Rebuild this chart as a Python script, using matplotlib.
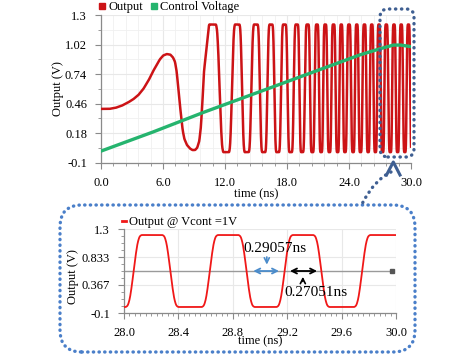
import matplotlib
matplotlib.use("Agg")
import matplotlib.pyplot as plt
import numpy as np
from matplotlib.lines import Line2D
from matplotlib.patches import FancyBboxPatch, PathPatch
from matplotlib.path import Path
from matplotlib.transforms import IdentityTransform

plt.rcParams["font.family"] = ["Liberation Serif", "DejaVu Serif"]

# ---- data ----
# top panel: start-up transient of the output
startup_t = [0.0, 0.8, 1.4, 2.0, 2.6, 3.1, 3.6, 4.1, 4.6, 5.0, 5.4, 5.7, 6.0, 6.35, 6.7,
             6.95, 7.15, 7.3, 7.45, 7.6, 7.75, 7.9, 8.05, 8.3, 8.6, 8.85, 9.1, 9.3, 9.5, 9.65, 9.8, 9.95]
startup_v = [0.41, 0.41, 0.42, 0.44, 0.47, 0.50, 0.54, 0.60, 0.68, 0.76, 0.83, 0.88, 0.915, 0.93, 0.925,
             0.90, 0.86, 0.78, 0.64, 0.48, 0.34, 0.21, 0.13, 0.07, 0.035, 0.02, 0.02, 0.04, 0.10, 0.22, 0.45, 0.75]
# centres of the high and low plateaus of the oscillation
peak_t = [10.8, 13.2, 15.0, 16.45, 17.75, 18.95, 20.0, 20.9, 21.7, 22.5, 23.25, 24.0,
          24.75, 25.5, 26.2, 26.9, 27.6, 28.35, 29.05, 29.75]
trough_t = [12.15, 14.1, 15.75, 17.1, 18.35, 19.45, 20.45, 21.3, 22.1, 22.9, 23.6, 24.4,
            25.1, 25.85, 26.55, 27.25, 28.0, 28.7, 29.4, 30.1]
v_high = 1.21
v_low = 0.0
# control voltage
ctrl_t = [0.0, 5.0, 10.0, 15.0, 20.0, 25.0, 27.0, 28.3, 29.0, 30.0]
ctrl_v = [0.01, 0.19, 0.38, 0.56, 0.74, 0.92, 0.98, 1.015, 1.015, 1.0]

# bottom panel: mid-level crossing times at Vcont = 1 V
zoom_rise = [28.07, 28.63, 29.18, 29.75]
zoom_fall = [28.34, 28.90, 29.45, 30.06]
zoom_high = 1.2
zoom_low = 0.0
mid_level = 0.6

red = "#cc1316"
green = "#25b46e"
grid_c = "#e8e8e8"
spine_c = "#8a8a8a"

# S-shaped profile used for every edge between two plateaus
edge_frac = [0.0, 0.15, 0.3, 0.5, 0.7, 0.85, 1.0]
edge_shape = [0.0, 0.05, 0.2, 0.5, 0.8, 0.95, 1.0]


def smooth(v, win):
    k = np.ones(win) / win
    vp = np.pad(v, win, mode="edge")
    return np.convolve(vp, k, mode="same")[win:-win]


def add_edge(ts, vs, t0, t1, a, b):
    for f, s in zip(edge_frac[1:-1], edge_shape[1:-1]):
        ts.append(t0 + f * (t1 - t0))
        vs.append(a + s * (b - a))


# build top waveform from plateau centres
ext = sorted([(p, v_high) for p in peak_t] + [(q, v_low) for q in trough_t])
wt = list(startup_t)
wv = list(startup_v)
prev_c = 9.4
for i, (c, lev) in enumerate(ext):
    nxt = ext[i + 1][0] if i + 1 < len(ext) else c + 0.35
    left = c - 0.5 * (c - prev_c) * 0.5
    right = c + 0.5 * (nxt - c) * 0.5
    if i > 0:
        add_edge(wt, wv, wt[-1], left, wv[-1], lev)
    wt += [left, right]
    wv += [lev, lev]
    prev_c = c
tt = np.arange(0, 30.2, 0.005)
vv = smooth(np.interp(tt, wt, wv), 16)

# bottom waveform from crossings
et = [27.9]
ev = [zoom_low]
edges = sorted([(c, zoom_low, zoom_high) for c in zoom_rise] + [(c, zoom_high, zoom_low) for c in zoom_fall])
for c, a, b in edges:
    et.append(c - 0.05)
    ev.append(a)
    add_edge(et, ev, c - 0.05, c + 0.05, a, b)
    et.append(c + 0.05)
    ev.append(b)
et.append(30.3)
ev.append(zoom_low)
bt = np.arange(27.9, 30.3, 0.002)
bv = smooth(np.interp(bt, et, ev), 12)

fig = plt.figure(figsize=(4.74, 3.63), dpi=100)

# ---- top panel ----
ax1 = fig.add_axes([101 / 474, 1 - 162.7 / 363, 310 / 474, 147.7 / 363])
ax1.plot(tt, vv, color=red, lw=1.8, zorder=3)
ax1.plot(ctrl_t, ctrl_v, color=green, lw=2.4, zorder=4)
ax1.set_xlim(0, 30)
ax1.set_ylim(-0.1, 1.3)
ax1.set_xticks([0, 6, 12, 18, 24, 30])
ax1.set_xticklabels(["0.0", "6.0", "12.0", "18.0", "24.0", "30.0"])
ax1.set_xticks(np.arange(0, 30.01, 1.2), minor=True)
ax1.set_yticks([-0.1, 0.18, 0.46, 0.74, 1.02, 1.3])
ax1.set_yticklabels(["-0.1", "0.18", "0.46", "0.74", "1.02", "1.3"])
ax1.set_yticks(np.arange(-0.1, 1.31, 0.14), minor=True)
ax1.set_xlabel("time (ns)", fontsize=9)
ax1.set_ylabel("Output (V)", fontsize=9)
ax1.xaxis.set_label_coords(0.5, -0.175)
ax1.yaxis.set_label_coords(-0.12, 0.5)

# ---- bottom panel ----
ax2 = fig.add_axes([124 / 474, 1 - 313 / 363, 272 / 474, 84 / 363])
ax2.plot(bt, bv, color="#f01818", lw=1.3, zorder=3)
ax2.plot([28.0, 29.97], [mid_level, mid_level], color="#9a9a9a", lw=1.0, zorder=2)
ax2.plot([29.97], [mid_level], marker="s", ms=3.5, color="#555555", zorder=4)
ax2.set_xlim(28.0, 30.0)
ax2.set_ylim(-0.1, 1.3)
ax2.set_xticks([28.0, 28.4, 28.8, 29.2, 29.6, 30.0])
ax2.set_xticklabels(["28.0", "28.4", "28.8", "29.2", "29.6", "30.0"])
ax2.set_xticks(np.arange(28.0, 30.001, 0.04), minor=True)
ax2.set_yticks([-0.1, 0.367, 0.833, 1.3])
ax2.set_yticklabels(["-0.1", "0.367", "0.833", "1.3"])
ax2.set_yticks(np.arange(-0.1, 1.31, 0.1167), minor=True)
ax2.set_xlabel("time (ns)", fontsize=9)
ax2.set_ylabel("Output (V)", fontsize=9)
ax2.xaxis.set_label_coords(0.5, -0.26)
ax2.yaxis.set_label_coords(-0.165, 0.43)

for ax in (ax1, ax2):
    for s in ("top", "right"):
        ax.spines[s].set_visible(False)
    for s in ("left", "bottom"):
        ax.spines[s].set_color(spine_c)
        ax.spines[s].set_linewidth(0.9)
    ax.tick_params(which="major", length=4, width=0.8, color=spine_c, labelsize=9, pad=6)
    ax.tick_params(which="minor", length=2.5, width=0.6, color=spine_c)
    ax.grid(True, which="major", color=grid_c, lw=0.8, zorder=0)
ax1.grid(True, which="minor", color="#f0f0f0", lw=0.6, zorder=0)

# annotations in bottom panel
ann_c1 = "#4b8ccb"
ax2.annotate("", xy=(28.93, mid_level), xytext=(29.16, mid_level),
             arrowprops=dict(arrowstyle="<->", color=ann_c1, lw=1.3, mutation_scale=9))
ax2.annotate("", xy=(29.05, 0.66), xytext=(29.05, 0.88),
             arrowprops=dict(arrowstyle="->", color=ann_c1, lw=1.2, mutation_scale=9))
ax2.annotate("", xy=(29.2, mid_level), xytext=(29.44, mid_level),
             arrowprops=dict(arrowstyle="<->", color="black", lw=1.3, mutation_scale=9))
ax2.annotate("", xy=(29.315, 0.55), xytext=(29.315, 0.38),
             arrowprops=dict(arrowstyle="->", color="black", lw=1.2, mutation_scale=9))
ax2.text(28.875, 0.97, "0.29057ns", fontsize=11, ha="left", va="center", zorder=5)
ax2.text(29.18, 0.24, "0.27051ns", fontsize=11, ha="left", va="center", zorder=5)

# legends
h1 = [Line2D([], [], ls="none", marker="s", ms=4, color=red),
      Line2D([], [], ls="none", marker="s", ms=4, color=green)]
fig.legend(h1, ["Output", "Control Voltage"], loc="center left",
           bbox_to_anchor=(99 / 474, 1 - 7 / 363), ncol=2, frameon=False, fontsize=9,
           handlelength=0.5, handletextpad=0.25, columnspacing=0.6, borderpad=0, borderaxespad=0)
h2 = [Line2D([], [], color="#f01818", lw=2)]
fig.legend(h2, ["Output @ Vcont =1V"], loc="center left",
           bbox_to_anchor=(122 / 474, 1 - 222 / 363), frameon=False, fontsize=9,
           handlelength=0.35, handletextpad=0.2, borderpad=0, borderaxespad=0)

# dotted callout boxes (pixel coordinates)
H = 363
box_top = FancyBboxPatch((380, H - 157), 34, 148, boxstyle="round,pad=0,rounding_size=8",
                         fill=False, ec="#3f5f92", lw=2.4, ls=(0, (0.1, 1.7)),
                         capstyle="round", transform=IdentityTransform())
box_bot = FancyBboxPatch((60, H - 352), 355, 147, boxstyle="round,pad=0,rounding_size=22",
                         fill=False, ec="#4a7fc9", lw=2.4, ls=(0, (0.1, 1.6)),
                         capstyle="round", transform=IdentityTransform())
fig.add_artist(box_top)
fig.add_artist(box_bot)
link = Path([(391, H - 172), (374, H - 180), (362, H - 204)],
            [Path.MOVETO, Path.CURVE3, Path.CURVE3])
fig.add_artist(PathPatch(link, fill=False, ec="#3f5f92", lw=2.4, ls=(0, (0.1, 1.7)),
                         capstyle="round", transform=IdentityTransform()))
fig.add_artist(Line2D([386.5, 393.3, 400], [H - 175, H - 162, H - 175], color="#3f5f92",
                      lw=2.2, transform=IdentityTransform()))

fig.savefig("out.png", dpi=100)
